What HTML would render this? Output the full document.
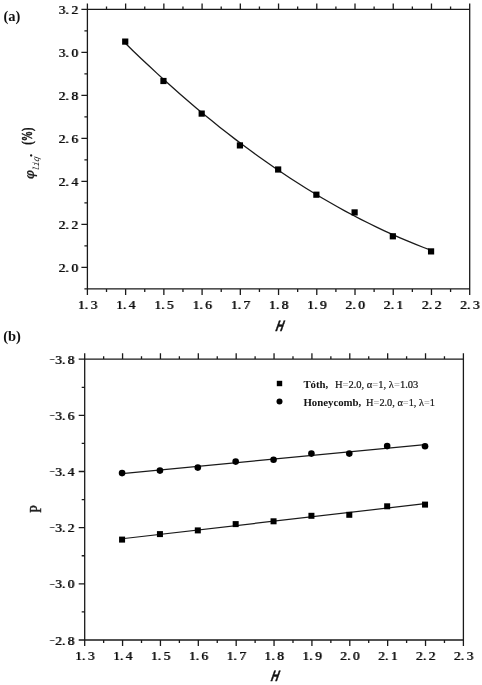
<!DOCTYPE html>
<html lang="en"><head><meta charset="utf-8"><title>Figure</title>
<style>
html,body{margin:0;padding:0;background:#fff;}
body{width:482px;height:685px;overflow:hidden;}
svg{display:block;filter:blur(0.35px);}
.ax{stroke:#1a1a1a;stroke-width:1.3;fill:none;stroke-linecap:butt;}
.cv{stroke:#1a1a1a;stroke-width:1.3;fill:none;}
.mk{fill:#000;}
.tk{font-family:"Liberation Serif",serif;font-size:13.4px;fill:#111;filter:url(#fb);}
.mn{font-size:9.5px;stroke-width:0.3;}
.pl{font-family:"Liberation Serif",serif;font-size:14.5px;font-weight:bold;fill:#111;}
.lgb{font-family:"Liberation Serif",serif;font-size:10.8px;font-weight:bold;fill:#111;}
.lgr{font-family:"Liberation Serif",serif;font-size:10.6px;fill:#151515;stroke:#151515;stroke-width:0.22;}
.eq{fill:#8a8a8a;stroke:none;}
.hh{font-family:"Liberation Sans",sans-serif;font-size:15px;font-weight:bold;font-style:italic;fill:#111;stroke:#111;stroke-width:0.5;}
</style></head><body>
<svg width="482" height="685" viewBox="0 0 482 685">
<defs><filter id="fb" x="-5%" y="-5%" width="110%" height="110%"><feDropShadow dx="0.6" dy="0" stdDeviation="0" flood-color="#111"/></filter></defs>
<rect width="482" height="685" fill="#fff"/>
<g id="plot-a">
<path class="ax" d="M87.4 9.4H469.7V288.9H87.4ZM87.4 9.4v-6M87.4 288.9v6M106.52 9.4v-3M106.52 288.9v3M125.63 9.4v-6M125.63 288.9v6M144.75 9.4v-3M144.75 288.9v3M163.86 9.4v-6M163.86 288.9v6M182.97 9.4v-3M182.97 288.9v3M202.09 9.4v-6M202.09 288.9v6M221.21 9.4v-3M221.21 288.9v3M240.32 9.4v-6M240.32 288.9v6M259.43 9.4v-3M259.43 288.9v3M278.55 9.4v-6M278.55 288.9v6M297.66 9.4v-3M297.66 288.9v3M316.78 9.4v-6M316.78 288.9v6M335.9 9.4v-3M335.9 288.9v3M355.01 9.4v-6M355.01 288.9v6M374.12 9.4v-3M374.12 288.9v3M393.24 9.4v-6M393.24 288.9v6M412.36 9.4v-3M412.36 288.9v3M431.47 9.4v-6M431.47 288.9v6M450.58 9.4v-3M450.58 288.9v3M469.7 9.4v-6M469.7 288.9v6M87.4 9.4h-6M87.4 30.9h-3M87.4 52.4h-6M87.4 73.9h-3M87.4 95.4h-6M87.4 116.9h-3M87.4 138.4h-6M87.4 159.9h-3M87.4 181.4h-6M87.4 202.9h-3M87.4 224.4h-6M87.4 245.9h-3M87.4 267.4h-6M87.4 288.9h-3"/>
<text class="tk" x="58.52 65.34 71.19" y="13.9">3.2</text>
<text class="tk" x="58.52 65.34 71.19" y="56.9">3.0</text>
<text class="tk" x="58.52 65.34 71.19" y="99.9">2.8</text>
<text class="tk" x="58.52 65.34 71.19" y="142.9">2.6</text>
<text class="tk" x="58.52 65.34 71.19" y="185.9">2.4</text>
<text class="tk" x="58.52 65.34 71.19" y="228.9">2.2</text>
<text class="tk" x="58.52 65.34 71.19" y="271.9">2.0</text>
<text class="tk" x="77.72 84.53 90.38" y="309.1">1.3</text>
<text class="tk" x="115.95 122.77 128.61" y="309.1">1.4</text>
<text class="tk" x="154.18 161 166.84" y="309.1">1.5</text>
<text class="tk" x="192.41 199.23 205.07" y="309.1">1.6</text>
<text class="tk" x="230.64 237.46 243.3" y="309.1">1.7</text>
<text class="tk" x="268.87 275.68 281.53" y="309.1">1.8</text>
<text class="tk" x="307.1 313.91 319.76" y="309.1">1.9</text>
<text class="tk" x="345.33 352.14 357.99" y="309.1">2.0</text>
<text class="tk" x="383.56 390.38 396.22" y="309.1">2.1</text>
<text class="tk" x="421.79 428.61 434.45" y="309.1">2.2</text>
<text class="tk" x="460.02 466.83 472.68" y="309.1">2.3</text>
<path class="cv" d="M125.63 43.51 L133.47 51.16 L141.31 58.68 L149.16 66.09 L157 73.37 L164.84 80.52 L172.68 87.56 L180.52 94.47 L188.37 101.25 L196.21 107.92 L204.05 114.45 L211.89 120.87 L219.73 127.16 L227.58 133.33 L235.42 139.38 L243.26 145.3 L251.1 151.1 L258.94 156.78 L266.79 162.33 L274.63 167.76 L282.47 173.07 L290.31 178.25 L298.16 183.31 L306 188.24 L313.84 193.06 L321.68 197.75 L329.52 202.31 L337.37 206.75 L345.21 211.07 L353.05 215.27 L360.89 219.34 L368.73 223.29 L376.58 227.12 L384.42 230.82 L392.26 234.4 L400.1 237.85 L407.94 241.18 L415.79 244.39 L423.63 247.48 L431.47 250.44"/>
<rect class="mk" x="122.13" y="38.5" width="6.2" height="6.2"/>
<rect class="mk" x="160.36" y="77.9" width="6.2" height="6.2"/>
<rect class="mk" x="198.59" y="110.5" width="6.2" height="6.2"/>
<rect class="mk" x="236.82" y="142.3" width="6.2" height="6.2"/>
<rect class="mk" x="275.05" y="166.4" width="6.2" height="6.2"/>
<rect class="mk" x="313.28" y="191.6" width="6.2" height="6.2"/>
<rect class="mk" x="351.51" y="209.3" width="6.2" height="6.2"/>
<rect class="mk" x="389.74" y="233.2" width="6.2" height="6.2"/>
<rect class="mk" x="427.97" y="248.3" width="6.2" height="6.2"/>
</g>
<text class="pl" x="3.4" y="21">(a)</text>
<text class="pl" x="3.2" y="341.3">(b)</text>
<g transform="translate(35.2 178.5) rotate(-90)">
<text x="-0.4" y="-1.6" style="font-family:'Liberation Sans',sans-serif;font-size:12.8px;font-weight:bold;font-style:italic;fill:#222;stroke:#222;stroke-width:0.1">φ</text>
<text transform="translate(6.7 4.1) skewX(-10)" style="font-family:'Liberation Mono',monospace;font-size:8.8px;font-style:italic;fill:#222" textLength="15" lengthAdjust="spacing">liq</text>
<text x="21.5" y="-1.4" style="font-family:'Liberation Serif',serif;font-size:9px;font-weight:bold;fill:#111">•</text>
<text x="33.8" y="-3.2" style="font-family:'Liberation Serif',serif;font-size:14px;font-weight:bold;fill:#111;stroke:#111;stroke-width:0.45" textLength="17" lengthAdjust="spacingAndGlyphs">(%)</text>
</g>
<text class="hh" transform="translate(275.2 330.9) skewX(-12) scale(0.70 1)">H</text>
<text class="hh" transform="translate(270.6 681.4) skewX(-12) scale(0.70 1)">H</text>
<g id="plot-b">
<path class="ax" style="stroke-width:1.3" d="M84.7 359.2H463.4V640H84.7ZM84.7 359.2v-6M84.7 640v6M103.64 359.2v-3M103.64 640v3M122.57 359.2v-6M122.57 640v6M141.51 359.2v-3M141.51 640v3M160.44 359.2v-6M160.44 640v6M179.38 359.2v-3M179.38 640v3M198.31 359.2v-6M198.31 640v6M217.25 359.2v-3M217.25 640v3M236.18 359.2v-6M236.18 640v6M255.12 359.2v-3M255.12 640v3M274.05 359.2v-6M274.05 640v6M292.99 359.2v-3M292.99 640v3M311.92 359.2v-6M311.92 640v6M330.86 359.2v-3M330.86 640v3M349.79 359.2v-6M349.79 640v6M368.72 359.2v-3M368.72 640v3M387.66 359.2v-6M387.66 640v6M406.6 359.2v-3M406.6 640v3M425.53 359.2v-6M425.53 640v6M444.46 359.2v-3M444.46 640v3M463.4 359.2v-6M463.4 640v6M84.7 359.2h-6M84.7 387.28h-3M84.7 415.36h-6M84.7 443.44h-3M84.7 471.52h-6M84.7 499.6h-3M84.7 527.68h-6M84.7 555.76h-3M84.7 583.84h-6M84.7 611.92h-3M84.7 640h-6"/>
<text class="tk" y="363.8"><tspan class="mn" x="49.21" dy="-0.9">−</tspan><tspan x="54.93 61.74 67.59" dy="0.9">3.8</tspan></text>
<text class="tk" y="419.96"><tspan class="mn" x="49.21" dy="-0.9">−</tspan><tspan x="54.93 61.74 67.59" dy="0.9">3.6</tspan></text>
<text class="tk" y="476.12"><tspan class="mn" x="49.21" dy="-0.9">−</tspan><tspan x="54.93 61.74 67.59" dy="0.9">3.4</tspan></text>
<text class="tk" y="532.28"><tspan class="mn" x="49.21" dy="-0.9">−</tspan><tspan x="54.93 61.74 67.59" dy="0.9">3.2</tspan></text>
<text class="tk" y="588.44"><tspan class="mn" x="49.21" dy="-0.9">−</tspan><tspan x="54.93 61.74 67.59" dy="0.9">3.0</tspan></text>
<text class="tk" y="644.6"><tspan class="mn" x="49.21" dy="-0.9">−</tspan><tspan x="54.93 61.74 67.59" dy="0.9">2.8</tspan></text>
<text class="tk" x="75.02 81.83 87.68" y="660.2">1.3</text>
<text class="tk" x="112.89 119.71 125.55" y="660.2">1.4</text>
<text class="tk" x="150.76 157.58 163.42" y="660.2">1.5</text>
<text class="tk" x="188.63 195.45 201.29" y="660.2">1.6</text>
<text class="tk" x="226.5 233.32 239.16" y="660.2">1.7</text>
<text class="tk" x="264.37 271.19 277.03" y="660.2">1.8</text>
<text class="tk" x="302.24 309.06 314.9" y="660.2">1.9</text>
<text class="tk" x="340.11 346.92 352.77" y="660.2">2.0</text>
<text class="tk" x="377.98 384.79 390.64" y="660.2">2.1</text>
<text class="tk" x="415.85 422.67 428.51" y="660.2">2.2</text>
<text class="tk" x="453.72 460.53 466.38" y="660.2">2.3</text>
<path class="cv" style="stroke-width:1.2" d="M122.07 473.59 L425.03 444.7"/>
<path class="cv" style="stroke-width:1.2" d="M122.07 538.75 L425.03 503.7"/>
<circle class="mk" cx="122.07" cy="473.1" r="3.3"/>
<circle class="mk" cx="159.94" cy="470.6" r="3.3"/>
<circle class="mk" cx="197.81" cy="467.6" r="3.3"/>
<circle class="mk" cx="235.68" cy="461.6" r="3.3"/>
<circle class="mk" cx="273.55" cy="459.8" r="3.3"/>
<circle class="mk" cx="311.42" cy="453.6" r="3.3"/>
<circle class="mk" cx="349.29" cy="453.6" r="3.3"/>
<circle class="mk" cx="387.16" cy="446.1" r="3.3"/>
<circle class="mk" cx="425.03" cy="446.3" r="3.3"/>
<rect class="mk" x="119.07" y="536.6" width="6" height="6"/>
<rect class="mk" x="156.94" y="531.1" width="6" height="6"/>
<rect class="mk" x="194.81" y="527.4" width="6" height="6"/>
<rect class="mk" x="232.68" y="521.1" width="6" height="6"/>
<rect class="mk" x="270.55" y="518.3" width="6" height="6"/>
<rect class="mk" x="308.42" y="512.8" width="6" height="6"/>
<rect class="mk" x="346.29" y="511.8" width="6" height="6"/>
<rect class="mk" x="384.16" y="503.3" width="6" height="6"/>
<rect class="mk" x="422.03" y="501.6" width="6" height="6"/>
<rect class="mk" x="276.8" y="380.8" width="5.4" height="5.4"/>
<circle class="mk" cx="279.5" cy="401.5" r="3"/>
<text class="lgb" x="303.4" y="388.3">Tóth,</text>
<text class="lgr" x="334.9" y="388.3" textLength="83.4" lengthAdjust="spacingAndGlyphs">H<tspan class="eq">=</tspan>2.0, α<tspan class="eq">=</tspan>1, λ<tspan class="eq">=</tspan>1.03</text>
<text class="lgb" x="303.4" y="406.3">Honeycomb,</text>
<text class="lgr" x="366.1" y="406.3" textLength="68.9" lengthAdjust="spacingAndGlyphs">H<tspan class="eq">=</tspan>2.0, α<tspan class="eq">=</tspan>1, λ<tspan class="eq">=</tspan>1</text>
</g>
<text transform="translate(40.6 512.7) rotate(-90)" style="font-family:'Liberation Serif',serif;font-size:16.5px;fill:#222;stroke:#222;stroke-width:0.45" textLength="7.6" lengthAdjust="spacingAndGlyphs">P</text>
</svg></body></html>
